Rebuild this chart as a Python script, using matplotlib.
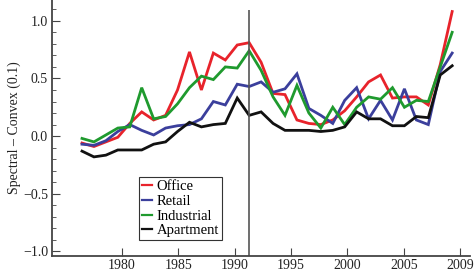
import matplotlib
matplotlib.use('Agg')
import matplotlib.pyplot as plt
import numpy as np
from matplotlib.ticker import MultipleLocator

plt.rcParams['font.family'] = ['Liberation Serif', 'DejaVu Serif']

# 32 observations, evenly spaced along the time axis
t = np.linspace(1976.45, 2009.3, 32)

office = [-0.06, -0.09, -0.05, -0.01, 0.11, 0.21, 0.14, 0.18, 0.40, 0.73, 0.40,
          0.72, 0.66, 0.79, 0.81, 0.64, 0.37, 0.36, 0.14, 0.11, 0.10, 0.14,
          0.22, 0.34, 0.47, 0.53, 0.33, 0.34, 0.34, 0.27, 0.62, 1.08]
retail = [-0.07, -0.08, -0.04, 0.04, 0.10, 0.05, 0.01, 0.07, 0.09, 0.10, 0.15,
          0.30, 0.27, 0.45, 0.43, 0.47, 0.38, 0.41, 0.54, 0.24, 0.18, 0.11,
          0.31, 0.42, 0.15, 0.31, 0.14, 0.41, 0.14, 0.10, 0.56, 0.72]
industrial = [-0.02, -0.05, 0.01, 0.07, 0.08, 0.42, 0.15, 0.17, 0.28, 0.42, 0.52,
              0.49, 0.60, 0.59, 0.74, 0.57, 0.34, 0.18, 0.44, 0.20, 0.07, 0.25,
              0.10, 0.25, 0.34, 0.32, 0.42, 0.25, 0.31, 0.30, 0.60, 0.90]
apartment = [-0.13, -0.18, -0.165, -0.12, -0.12, -0.12, -0.07, -0.05, 0.04, 0.12,
             0.08, 0.10, 0.11, 0.33, 0.18, 0.21, 0.11, 0.05, 0.05, 0.05, 0.04,
             0.05, 0.08, 0.21, 0.15, 0.15, 0.09, 0.09, 0.17, 0.16, 0.53, 0.61]

series = [('Office', office, '#e8232b'),
          ('Retail', retail, '#3b3f9c'),
          ('Industrial', industrial, '#1f9a2e'),
          ('Apartment', apartment, '#111111')]

tick_pos = [1980, 1985, 1990, 1995, 2000, 2005, 2010]
tick_lab = ['1980', '1985', '1990', '1995', '2000', '2005', '2009']
break_year = 1991.28

fig = plt.figure(figsize=(4.74, 2.71), dpi=100)
ax = fig.add_axes([0.110, 0.055, 0.882, 0.945])

for name, vals, col in series:
    ax.plot(t, vals, color=col, lw=2.0, label=name, solid_joinstyle='miter')

ax.vlines(break_year, -1.04, 1.09, color='#555555', lw=1.2)

ax.set_xlim(1973.8, 2010.9)
ax.set_ylim(-1.04, 1.18)

ax.set_xticks(tick_pos)
ax.set_xticklabels(tick_lab)
ax.yaxis.set_major_locator(MultipleLocator(0.5))
ax.yaxis.set_minor_locator(MultipleLocator(0.1))
ax.set_yticks([-1.0, -0.5, 0.0, 0.5, 1.0])
ax.set_yticklabels(['\u22121.0', '\u22120.5', '0.0', '0.5', '1.0'])

ax.tick_params(axis='both', direction='in', labelsize=10, colors='#444444',
               labelcolor='#222222')
ax.tick_params(axis='x', length=6, pad=2)
ax.tick_params(axis='y', which='major', length=6, pad=3)
ax.tick_params(axis='y', which='minor', length=3, direction='in', colors='#444444')

for s in ['top', 'right']:
    ax.spines[s].set_visible(False)
for s in ['left', 'bottom']:
    ax.spines[s].set_color('#444444')
    ax.spines[s].set_linewidth(1.3)

ax.set_ylabel('Spectral \u2013 Convex (0.1)', fontsize=10, color='#222222', labelpad=1)

leg = ax.legend(loc='lower left', bbox_to_anchor=(0.208, 0.062), fontsize=10.5,
                handlelength=0.7, handletextpad=0.3, labelspacing=0.1,
                borderpad=0.2, borderaxespad=0, fancybox=False, framealpha=1)
leg.get_frame().set_edgecolor('#333333')
leg.get_frame().set_linewidth(0.8)
for h in leg.get_lines():
    h.set_linewidth(1.6)

fig.savefig('out.png', dpi=100)
